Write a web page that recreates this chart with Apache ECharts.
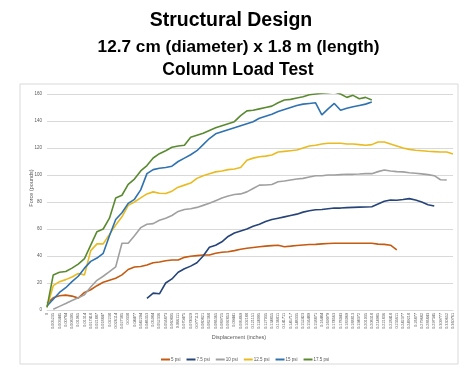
<!DOCTYPE html>
<html><head><meta charset="utf-8">
<script src="https://cdn.jsdelivr.net/npm/echarts@6/dist/echarts.min.js"></script>
<style>html,body{margin:0;padding:0;background:#fff}#c{width:474px;height:384px}</style>
</head><body><div id="c"></div>
<script>
const categories = ["0","0.005235","0.003445","0.00784","0.008395","0.01065","0.01314","0.017418","0.021887","0.018847","0.02238","0.026114","0.027385","0.0338","0.04477","0.042294","0.046353","0.05084","0.052336","0.056873","0.060805","0.066111","0.070475","0.074329","0.077113","0.080821","0.082368","0.086365","0.089725","0.092853","0.09441","0.095869","0.102188","0.121151","0.124095","0.127035","0.134855","0.136811","0.141711","0.145717","0.148335","0.152423","0.156489","0.158871","0.16484","0.169079","0.174563","0.178043","0.183069","0.188813","0.194372","0.201035","0.208318","0.214985","0.221836","0.228418","0.235611","0.242377","0.249218","0.26877","0.279682","0.286843","0.297345","0.309777","0.330652","0.360761"];
const psi5 = [5,9,10.5,11,10.3,8.8,13,15,18,20.5,22,23.5,26,30,31.8,32.2,33.3,35,35.6,36.5,37,37,39,39.8,40.3,40.7,40.7,42,42.8,43.2,44,45,45.7,46.3,46.9,47.3,47.7,48,46.9,47.3,47.8,48.2,48.5,48.6,49,49.3,49.4,49.4,49.4,49.4,49.4,49.4,49.4,48.8,48.6,48,44.5,null,null,null,null,null,null,null,null,null];
const psi7_5 = [null,null,null,null,null,null,null,null,null,null,null,null,null,null,null,null,8.6,12.5,12,20,23,28,30.5,32.5,35,40,46.5,48,50.5,54.5,57,58.5,60,62,63.5,65.5,67,68,69,70,71,72.5,73.5,74.3,74.5,75,75.5,75.5,75.8,76,76.2,76.3,76.5,78.5,80.5,81.5,81.3,81.8,82.5,81.5,80,78,77,null,null,null];
const psi10 = [null,0.5,2.7,4.8,7,9,11.3,17,22,25,28.4,32,49.4,49.5,55,61,63.5,64,66.5,68,70,73,74.5,75,76,77.5,79,81,83,84.5,85.5,86,87.5,90,92.5,92.6,93,95,95.5,96.3,97,97.5,98.5,99.5,99.5,100,100,100.3,100.5,100.5,100.7,101,101,102.5,103.7,103,102.5,102.3,101.7,101.3,100.8,100.3,99.5,96.5,96.3,null];
const psi12_5 = [2,18,21,22.5,24.5,27,26,44,49,49,56,63,69,77.5,80,83,86,87.5,86.5,86.3,88,91,92.5,94,97.5,99.5,101,102.3,103,104,104.5,105.5,111,112.5,113.5,114,114.8,117,117.5,118,118.5,120,121.5,122,123,123.5,123.5,123.5,123,123,122.5,122,122.5,124.5,124.5,123,121.5,120,119,118.3,118,117.6,117.3,117,117,115.5];
const psi15 = [3,8,13,16.5,21,25,31,36,38.5,42,55,67,72,79,82,89,101,104,105,105.5,106.5,110,112.5,115,118,122.5,127,130.5,132,133.5,135,136.5,138,139.5,142,143.5,145,147,148.5,150,151.5,152.5,153,153.5,144.5,149,153,148,149.5,150.5,151.5,152.5,154,null,null,null,null,null,null,null,null,null,null,null,null,null];
const psi17_5 = [2,26,28,28.5,31,34,38,48,58,60,68,83,85,93,97,103,107,112.6,115.8,118,120.5,121.5,122,128,129.5,131,133,135,136.5,138,139.5,144,147.5,148,149,150,151,153.5,155.5,156,157,158,159.5,160,160.5,161,161.5,160,157.5,159,156.5,157.5,155.5,null,null,null,null,null,null,null,null,null,null,null,null,null];
const seriesNames = ["5 psi","7.5 psi","10 psi","12.5 psi","15 psi","17.5 psi"];
const seriesColors = ["#c55a11","#264478","#a0a0a0","#e9bb22","#2e72b0","#5a8a30"];
const seriesData = [psi5, psi7_5, psi10, psi12_5, psi15, psi17_5];

const chart = echarts.init(document.getElementById('c'), null, {renderer:'canvas'});
const font = '"Liberation Sans", Arial, sans-serif';
chart.setOption({
  animation:false,
  backgroundColor:'#fff',
  graphic:[
    {type:'rect', z:-10, shape:{x:20,y:84,width:438,height:280}, style:{fill:'#fff', stroke:'#d9d9d9', lineWidth:1}},
    {type:'text', x:231, y:21, style:{text:'Structural Design', font:'bold 19.5px '+font, fill:'#000', textAlign:'center', textVerticalAlign:'middle'}},
    {type:'text', x:238.5, y:47, style:{text:'12.7 cm (diameter) x 1.8 m (length)', font:'bold 17.2px '+font, fill:'#000', textAlign:'center', textVerticalAlign:'middle'}},
    {type:'text', x:238, y:70.5, style:{text:'Column Load Test', font:'bold 17.5px '+font, fill:'#000', textAlign:'center', textVerticalAlign:'middle'}},
    {type:'text', x:239, y:337, style:{text:'Displacement (inches)', font:'5.5px '+font, fill:'#595959', textAlign:'center', textVerticalAlign:'middle'}},
    {type:'text', x:31, y:188, rotation:Math.PI/2, style:{text:'Force (pounds)', font:'5.5px '+font, fill:'#595959', textAlign:'center', textVerticalAlign:'middle'}}
  ],
  grid:{left:47, right:21, top:94, bottom:74, containLabel:false},
  legend:{
    data:seriesNames, left:156, top:352, orient:'horizontal',
    icon:'rect', itemWidth:9, itemHeight:2, itemGap:6,
    textStyle:{fontSize:4.5, color:'#595959', fontFamily:font, padding:[0,0,0,-4]}
  },
  xAxis:{
    type:'category', data:categories, boundaryGap:false,
    axisLine:{show:true, lineStyle:{color:'#d9d9d9', width:1}},
    axisTick:{show:false},
    axisLabel:{interval:0, rotate:90, fontSize:3.8, color:'#595959', fontFamily:font, margin:3}
  },
  yAxis:{
    type:'value', min:0, max:160, interval:20,
    axisLine:{show:false}, axisTick:{show:false},
    splitLine:{lineStyle:{color:'#d9d9d9', width:1}},
    axisLabel:{fontSize:4.5, color:'#595959', fontFamily:font, margin:5}
  },
  series: seriesNames.map((n,k)=>({
    name:n, type:'line', data:seriesData[k], showSymbol:false, symbol:'none',
    connectNulls:false, lineStyle:{color:seriesColors[k], width:1.6}, itemStyle:{color:seriesColors[k]}
  }))
});
</script></body></html>
